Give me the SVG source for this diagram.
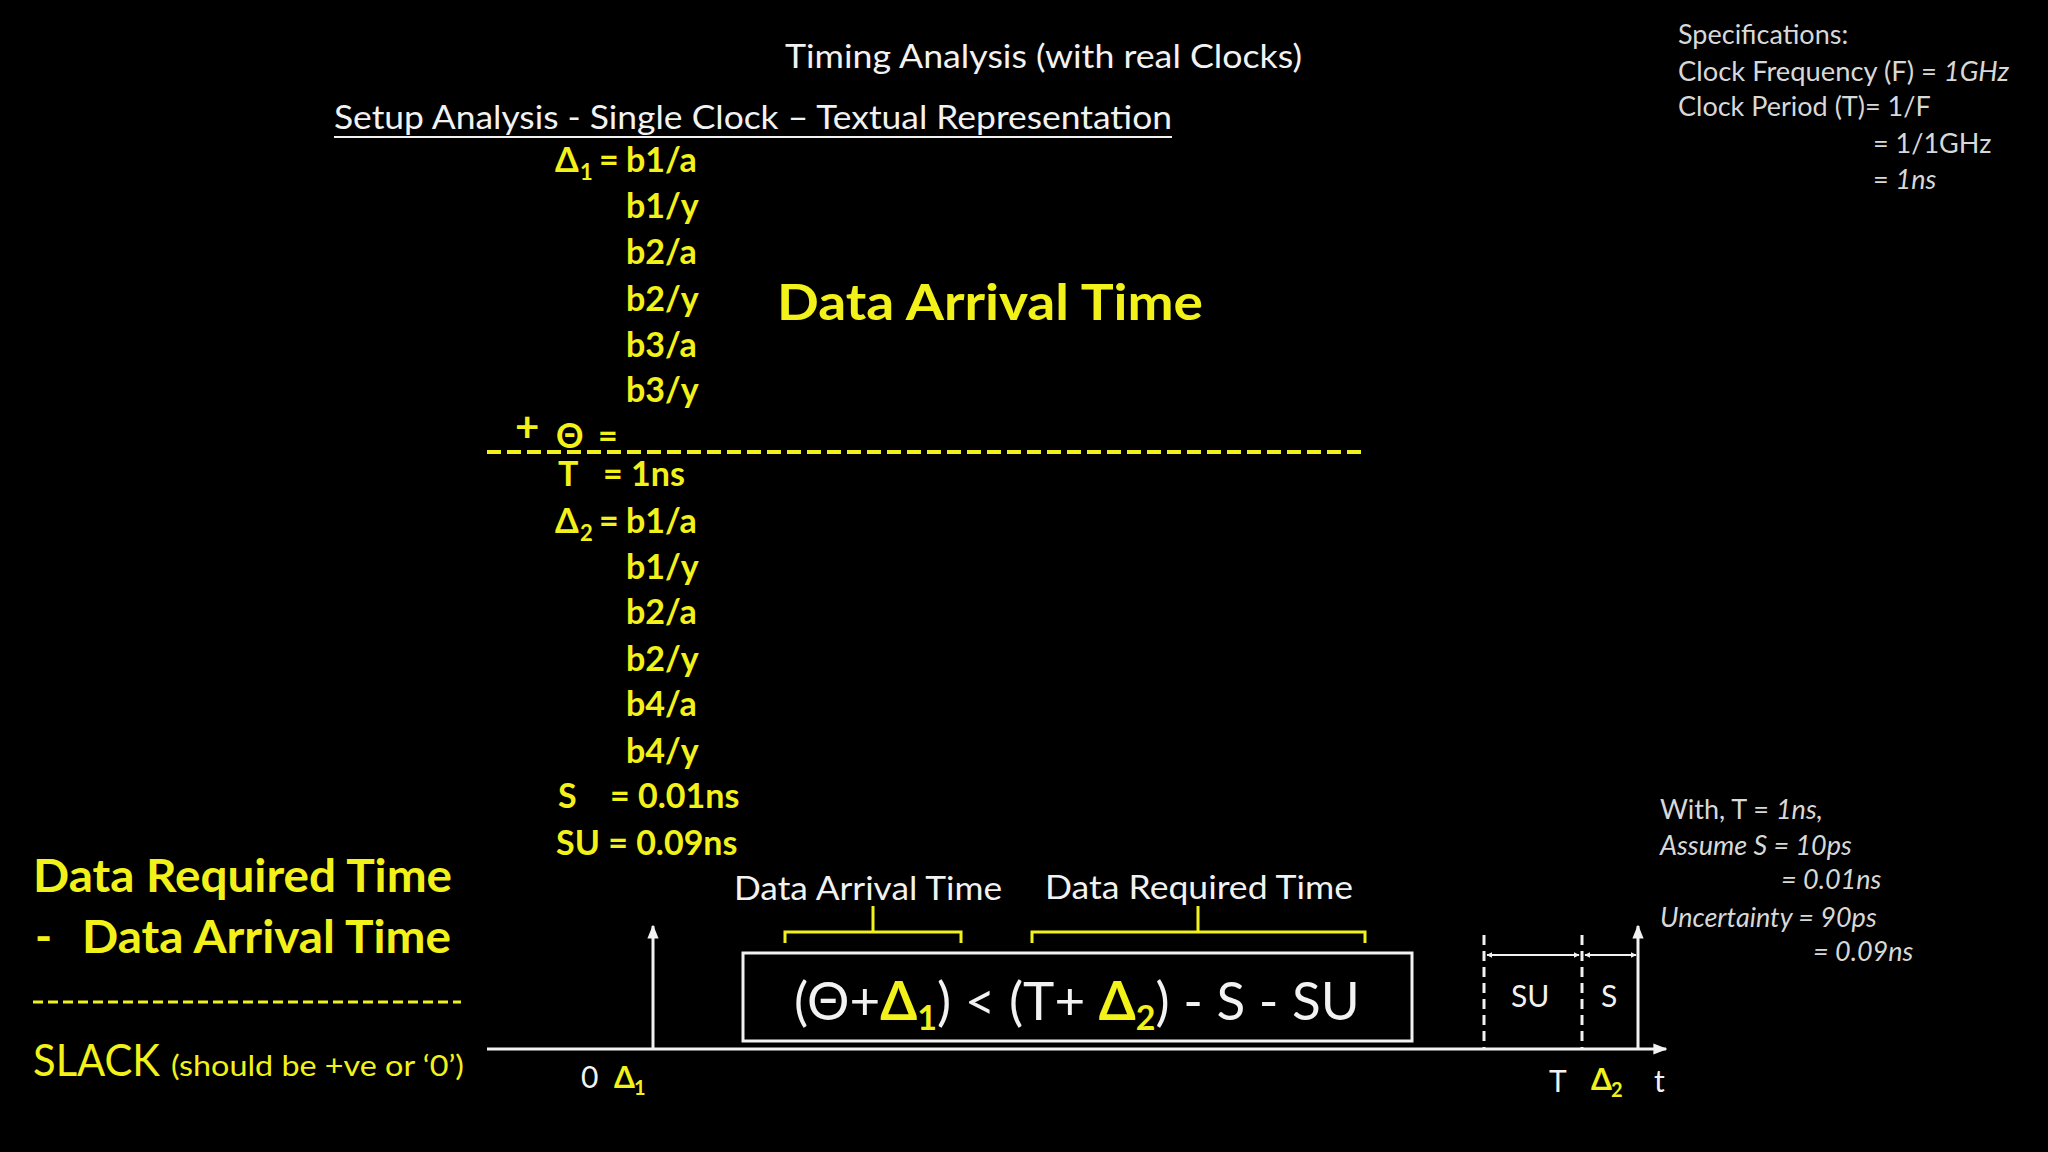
<svg xmlns="http://www.w3.org/2000/svg" width="2048" height="1152" viewBox="0 0 2048 1152">
<defs>
<style>
text{font-family:Lato,"Liberation Sans",sans-serif}
.w{fill:#f2f2f2}
.g{fill:#d8d8d8}
.y{fill:#f2f21a}
.b{font-weight:bold}
.i{font-style:italic}
.yl{font-size:34px;font-weight:bold;fill:#f2f21a}
.sub{font-size:22px;font-weight:bold;fill:#f2f21a}
.spec{font-size:27px;fill:#d8d8d8}
.ln{stroke:#f2f2f2;stroke-width:3;fill:none}
.br{stroke:#f2f21a;stroke-width:3;fill:none}
</style>
<marker id="ah" viewBox="0 0 10 10" refX="9" refY="5" markerWidth="6" markerHeight="6" orient="auto-start-reverse" markerUnits="userSpaceOnUse">
<path d="M0,0 L10,5 L0,10 z" fill="#f2f2f2"/>
</marker>
<marker id="ah2" viewBox="0 0 10 10" refX="9" refY="5" markerWidth="14" markerHeight="14" orient="auto-start-reverse" markerUnits="userSpaceOnUse">
<path d="M0,1 L10,5 L0,9 z" fill="#f2f2f2"/>
</marker>
</defs>
<rect width="2048" height="1152" fill="#000"/>

<g id="title">
<text x="785" y="68" font-size="33" class="w" textLength="517" lengthAdjust="spacingAndGlyphs">Timing Analysis (with real Clocks)</text>
<text x="334" y="129" font-size="33" class="w" textLength="838" lengthAdjust="spacingAndGlyphs">Setup Analysis - Single Clock – Textual Representation</text>
<line x1="334" y1="137" x2="1172" y2="137" stroke="#f2f2f2" stroke-width="2"/>
</g>

<g id="specs">
<text x="1678" y="44" class="spec">Specifications:</text>
<text x="1678" y="81" class="spec" textLength="331" lengthAdjust="spacingAndGlyphs">Clock Frequency (F) = <tspan class="i">1GHz</tspan></text>
<text x="1678" y="116" class="spec">Clock Period (T)= 1/F</text>
<text x="1873" y="153" class="spec">= 1/1GHz</text>
<text x="1873" y="189" class="spec">= <tspan class="i">1ns</tspan></text>
</g>

<g id="arrival-list">
<text x="555" y="172" class="yl">Δ</text><text x="580" y="180" class="sub">1</text>
<text x="599" y="172" class="yl">=</text>
<text x="626" y="172" class="yl">b1/a</text>
<text x="626" y="218" class="yl">b1/y</text>
<text x="626" y="264" class="yl">b2/a</text>
<text x="626" y="311" class="yl">b2/y</text>
<text x="626" y="357" class="yl">b3/a</text>
<text x="626" y="402" class="yl">b3/y</text>
<text x="515" y="442" font-size="42" class="y b">+</text>
<text x="556" y="448" class="yl">Θ</text>
<text x="598" y="448" class="yl">=</text>
<text x="777" y="320" font-size="50" class="y b" textLength="426" lengthAdjust="spacingAndGlyphs">Data Arrival Time</text>
</g>

<g id="sum-line">
<line x1="487" y1="452" x2="1366" y2="452" stroke="#f2f21a" stroke-width="4" stroke-dasharray="14 6"/>
</g>

<g id="required-list">
<text x="558" y="486" class="yl">T</text>
<text x="603" y="486" class="yl">= 1ns</text>
<text x="555" y="533" class="yl">Δ</text><text x="580" y="541" class="sub">2</text>
<text x="599" y="533" class="yl">=</text>
<text x="626" y="533" class="yl">b1/a</text>
<text x="626" y="579" class="yl">b1/y</text>
<text x="626" y="624" class="yl">b2/a</text>
<text x="626" y="671" class="yl">b2/y</text>
<text x="626" y="716" class="yl">b4/a</text>
<text x="626" y="763" class="yl">b4/y</text>
<text x="558" y="808" class="yl">S</text>
<text x="610" y="808" class="yl">= 0.01ns</text>
<text x="556" y="855" class="yl">SU = 0.09ns</text>
</g>

<g id="slack">
<text x="33" y="892" font-size="46" class="y b" textLength="419" lengthAdjust="spacingAndGlyphs">Data Required Time</text>
<text x="35" y="953" font-size="46" class="y b">-</text>
<text x="82" y="953" font-size="46" class="y b" textLength="369" lengthAdjust="spacingAndGlyphs">Data Arrival Time</text>
<line x1="33" y1="1002" x2="461" y2="1002" stroke="#f2f21a" stroke-width="3" stroke-dasharray="10 5"/>
<text x="33" y="1076" font-size="44" class="y" textLength="127" lengthAdjust="spacingAndGlyphs">SLACK</text>
<text x="171" y="1076" font-size="28" class="y" textLength="293" lengthAdjust="spacingAndGlyphs">(should be +ve or ‘0’)</text>
</g>

<g id="connectors">
<line x1="487" y1="1049" x2="1666" y2="1049" class="ln" marker-end="url(#ah2)"/>
<line x1="653" y1="1049" x2="653" y2="926" class="ln" marker-end="url(#ah2)"/>
<line x1="1638" y1="1049" x2="1638" y2="926" class="ln" marker-end="url(#ah2)"/>
<line x1="1484" y1="935" x2="1484" y2="1049" class="ln" stroke-dasharray="10 6"/>
<line x1="1582" y1="935" x2="1582" y2="1049" class="ln" stroke-dasharray="10 6"/>
<line x1="1487" y1="955" x2="1579" y2="955" stroke="#f2f2f2" stroke-width="2" marker-start="url(#ah)" marker-end="url(#ah)"/>
<line x1="1585" y1="955" x2="1636" y2="955" stroke="#f2f2f2" stroke-width="2" marker-start="url(#ah)" marker-end="url(#ah)"/>
<path d="M785,943 V932 H961 V943 M873,932 V906" class="br"/>
<path d="M1032,943 V932 H1365 V943 M1198,932 V906" class="br"/>
</g>

<g id="timeline-labels">
<text x="581" y="1088" font-size="30" class="w">0</text>
<text x="614" y="1088" font-size="30" class="y b">Δ</text><text x="634" y="1095" font-size="20" class="y b">1</text>
<text x="1549" y="1092" font-size="30" class="w">T</text>
<text x="1591" y="1090" font-size="30" class="y b">Δ</text><text x="1611" y="1097" font-size="20" class="y b">2</text>
<text x="1654" y="1092" font-size="30" class="w">t</text>
<text x="1511" y="1007" font-size="30" class="w">SU</text>
<text x="1601" y="1007" font-size="30" class="w">S</text>
</g>

<g id="labels">
<text x="734" y="900" font-size="32" class="w" textLength="268" lengthAdjust="spacingAndGlyphs">Data Arrival Time</text>
<text x="1045" y="899" font-size="32" class="w" textLength="308" lengthAdjust="spacingAndGlyphs">Data Required Time</text>
</g>

<g id="formula">
<rect x="743" y="953" width="669" height="88" fill="none" stroke="#f2f2f2" stroke-width="3"/>
<text x="794" y="1020" font-size="53" class="w">(Θ+<tspan class="y b">Δ</tspan><tspan class="y b" font-size="34" dy="10">1</tspan><tspan dy="-10">) &lt; (T+ </tspan><tspan class="y b">Δ</tspan><tspan class="y b" font-size="34" dy="10">2</tspan><tspan dy="-10">) - S - SU</tspan></text>
</g>

<g id="assume">
<text x="1660" y="819" class="spec">With, T = <tspan class="i">1ns,</tspan></text>
<text x="1660" y="855" class="spec i">Assume S = 10ps</text>
<text x="1781" y="889" class="spec i">= 0.01ns</text>
<text x="1660" y="927" class="spec i">Uncertainty = 90ps</text>
<text x="1813" y="961" class="spec i">= 0.09ns</text>
</g>
</svg>
